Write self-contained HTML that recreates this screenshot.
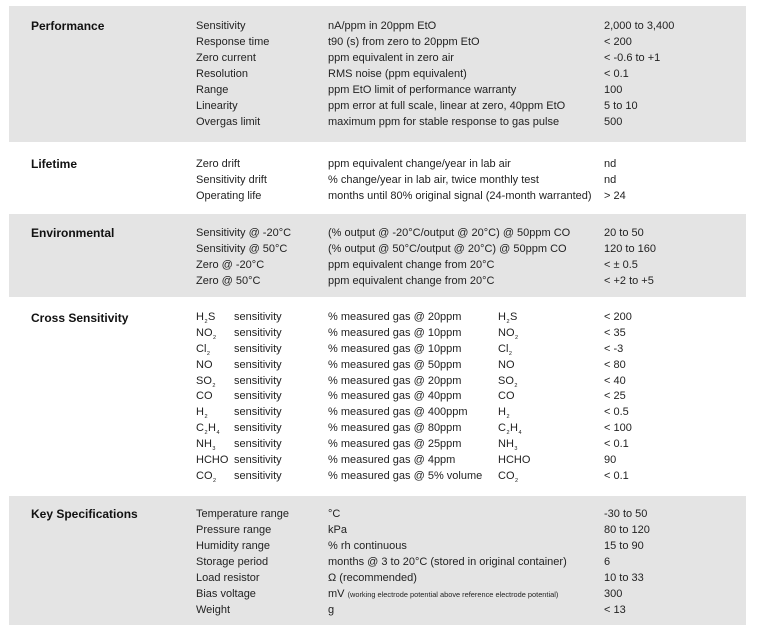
<!DOCTYPE html>
<html>
<head>
<meta charset="utf-8">
<style>
  html,body{margin:0;padding:0;background:#fff;}
  body{width:761px;height:634px;position:relative;overflow:hidden;
       font-family:"Liberation Sans",sans-serif;color:#222;}
  .box{position:absolute;left:9px;width:737px;background:#e4e4e4;}
  .h{position:absolute;left:31px;font-weight:bold;font-size:12px;color:#111;white-space:nowrap;line-height:16px;}
  .col{position:absolute;font-size:11px;white-space:nowrap;}
  .col div{height:16px;line-height:16px;}
  .cs div{height:15.9px;line-height:15.9px;}
  sub{font-size:5.5px;vertical-align:-3px;line-height:0;margin:0 0.5px;}
  .sm{font-size:7.4px;}
</style>
</head>
<body>
<div class="box" style="top:6px;height:136px;"></div>
<div class="box" style="top:214px;height:83px;"></div>
<div class="box" style="top:496px;height:129px;"></div>

<div class="h" style="top:18px;">Performance</div>
<div class="col" style="left:196px;top:18px;">
  <div>Sensitivity</div><div>Response time</div><div>Zero current</div><div>Resolution</div><div>Range</div><div>Linearity</div><div>Overgas limit</div>
</div>
<div class="col" style="left:328px;top:18px;">
  <div>nA/ppm in 20ppm EtO</div><div>t90 (s) from zero to 20ppm EtO</div><div>ppm equivalent in zero air</div><div>RMS noise (ppm equivalent)</div><div>ppm EtO limit of performance warranty</div><div>ppm error at full scale, linear at zero, 40ppm EtO</div><div>maximum ppm for stable response to gas pulse</div>
</div>
<div class="col" style="left:604px;top:18px;">
  <div>2,000 to 3,400</div><div>&lt; 200</div><div>&lt; -0.6 to +1</div><div>&lt; 0.1</div><div>100</div><div>5 to 10</div><div>500</div>
</div>

<div class="h" style="top:156px;">Lifetime</div>
<div class="col" style="left:196px;top:156px;">
  <div>Zero drift</div><div>Sensitivity drift</div><div>Operating life</div>
</div>
<div class="col" style="left:328px;top:156px;">
  <div>ppm equivalent change/year in lab air</div><div>% change/year in lab air, twice monthly test</div><div>months until 80% original signal (24-month warranted)</div>
</div>
<div class="col" style="left:604px;top:156px;">
  <div>nd</div><div>nd</div><div>&gt; 24</div>
</div>

<div class="h" style="top:225px;">Environmental</div>
<div class="col" style="left:196px;top:225px;">
  <div>Sensitivity @ -20°C</div><div>Sensitivity @ 50°C</div><div>Zero @ -20°C</div><div>Zero @ 50°C</div>
</div>
<div class="col" style="left:328px;top:225px;">
  <div>(% output @ -20°C/output @ 20°C) @ 50ppm CO</div><div>(% output @ 50°C/output @ 20°C) @ 50ppm CO</div><div>ppm equivalent change from 20°C</div><div>ppm equivalent change from 20°C</div>
</div>
<div class="col" style="left:604px;top:225px;">
  <div>20 to 50</div><div>120 to 160</div><div>&lt; ± 0.5</div><div>&lt; +2 to +5</div>
</div>

<div class="h" style="top:310px;">Cross Sensitivity</div>
<div class="col cs" style="left:196px;top:310px;">
  <div>H<sub>2</sub>S</div><div>NO<sub>2</sub></div><div>Cl<sub>2</sub></div><div>NO</div><div>SO<sub>2</sub></div><div>CO</div><div>H<sub>2</sub></div><div>C<sub>2</sub>H<sub>4</sub></div><div>NH<sub>3</sub></div><div>HCHO</div><div>CO<sub>2</sub></div>
</div>
<div class="col cs" style="left:234px;top:310px;">
  <div>sensitivity</div><div>sensitivity</div><div>sensitivity</div><div>sensitivity</div><div>sensitivity</div><div>sensitivity</div><div>sensitivity</div><div>sensitivity</div><div>sensitivity</div><div>sensitivity</div><div>sensitivity</div>
</div>
<div class="col cs" style="left:328px;top:310px;">
  <div>% measured gas @ 20ppm</div><div>% measured gas @ 10ppm</div><div>% measured gas @ 10ppm</div><div>% measured gas @ 50ppm</div><div>% measured gas @ 20ppm</div><div>% measured gas @ 40ppm</div><div>% measured gas @ 400ppm</div><div>% measured gas @ 80ppm</div><div>% measured gas @ 25ppm</div><div>% measured gas @ 4ppm</div><div>% measured gas @ 5% volume</div>
</div>
<div class="col cs" style="left:498px;top:310px;">
  <div>H<sub>2</sub>S</div><div>NO<sub>2</sub></div><div>Cl<sub>2</sub></div><div>NO</div><div>SO<sub>2</sub></div><div>CO</div><div>H<sub>2</sub></div><div>C<sub>2</sub>H<sub>4</sub></div><div>NH<sub>3</sub></div><div>HCHO</div><div>CO<sub>2</sub></div>
</div>
<div class="col cs" style="left:604px;top:310px;">
  <div>&lt; 200</div><div>&lt; 35</div><div>&lt; -3</div><div>&lt; 80</div><div>&lt; 40</div><div>&lt; 25</div><div>&lt; 0.5</div><div>&lt; 100</div><div>&lt; 0.1</div><div>90</div><div>&lt; 0.1</div>
</div>

<div class="h" style="top:506px;">Key Specifications</div>
<div class="col" style="left:196px;top:506px;">
  <div>Temperature range</div><div>Pressure range</div><div>Humidity range</div><div>Storage period</div><div>Load resistor</div><div>Bias voltage</div><div>Weight</div>
</div>
<div class="col" style="left:328px;top:506px;">
  <div>°C</div><div>kPa</div><div>% rh continuous</div><div>months @ 3 to 20°C (stored in original container)</div><div>Ω (recommended)</div><div>mV <span class="sm">(working electrode potential above reference electrode potential)</span></div><div>g</div>
</div>
<div class="col" style="left:604px;top:506px;">
  <div>-30 to 50</div><div>80 to 120</div><div>15 to 90</div><div>6</div><div>10 to 33</div><div>300</div><div>&lt; 13</div>
</div>
</body>
</html>
